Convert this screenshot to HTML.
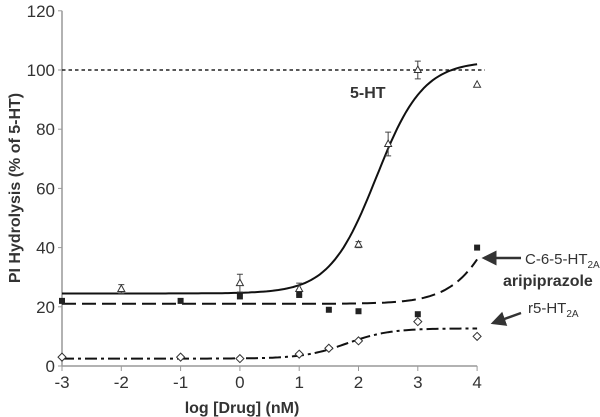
<!DOCTYPE html>
<html><head><meta charset="utf-8"><style>
body{margin:0;background:#fff}
svg{display:block;font-family:"Liberation Sans",Arial,sans-serif}
</style></head><body>
<svg id="c" width="600" height="417"></svg>
<script>
const xTicks=[-3,-2,-1,0,1,2,3,4];
const yTicks=[0,20,40,60,80,100,120];
const htX=[-2,0,1,2,2.5,3,4];
const htY=[26,28,26,41,75,100,95];
const htErr=[1.5,3,2,1,4,3,0];
const ariX=[-3,-1,0,1,1.5,2,3,4];
const ariY=[22,22,23.5,24,19,18.5,17.5,40];
const r5X=[-3,-1,0,1,1.5,2,3,4];
const r5Y=[3,3,2.5,4,6,8.5,15,10];
const htFit=[24.5,103,2.3,1.1];
const ariFit=[21,100,4.6,1.05];
const r5Fit=[2.5,12.7,1.8,1.2];
const NS="http://www.w3.org/2000/svg";
const svg=document.getElementById('c');
const X=v=>62+(v+3)*59.3;
const Y=v=>366-v*2.96;
function mk(t,a,p){const e=document.createElementNS(NS,t);for(const k in a)e.setAttribute(k,a[k]);(p||svg).appendChild(e);return e;}
function sig(f,x){return f[0]+(f[1]-f[0])/(1+Math.pow(10,(f[2]-x)*f[3]));}
let e;
e=mk('line',{x1:62,y1:Y(120),x2:62,y2:366,stroke:'#999','stroke-width':1.5});

e=mk('line',{x1:62,y1:366,x2:X(4),y2:366,stroke:'#999','stroke-width':1.5});

yTicks.forEach(t=>{
 mk('line',{x1:58,y1:Y(t),x2:62,y2:Y(t),stroke:'#999'});
 e=mk('text',{x:55,y:Y(t)+6,'text-anchor':'end','font-size':17,fill:'#333'});e.textContent=t;
 
});
xTicks.forEach(t=>{
 mk('line',{x1:X(t),y1:366,x2:X(t),y2:371,stroke:'#999'});
 e=mk('text',{x:X(t),y:388,'text-anchor':'middle','font-size':17,fill:'#333'});e.textContent=t;
 
});
e=mk('line',{x1:62,y1:Y(100),x2:485,y2:Y(100),stroke:'#222','stroke-width':1.6,'stroke-dasharray':'3.5,3'});

function curve(f,dash,name){let d='';for(let i=0;i<=140;i++){const x=-3+i*0.05;d+=(i?'L':'M')+X(x).toFixed(1)+','+Y(sig(f,x)).toFixed(1);}
 e=mk('path',{d:d,fill:'none',stroke:'#111','stroke-width':2,'stroke-dasharray':dash});
 }
curve(htFit,'none','fit-5ht');
curve(ariFit,'14,6','fit-c6-aripiprazole');
curve(r5Fit,'12,4,3,4','fit-r5-aripiprazole');
htX.forEach((x,i)=>{const cx=X(x),cy=Y(htY[i]);
 if(htErr[i]){const t=Y(htY[i]+htErr[i]),b=Y(htY[i]-htErr[i]);
  mk('path',{d:`M${cx-3},${t}H${cx+3}M${cx},${t}V${b}M${cx-3},${b}H${cx+3}`,stroke:'#444',fill:'none'});}
 e=mk('path',{d:`M${cx},${cy-4}L${cx+3.5},${cy+2.5}L${cx-3.5},${cy+2.5}Z`,fill:'#fff',stroke:'#333'});
 });
ariX.forEach((x,i)=>{e=mk('rect',{x:X(x)-3,y:Y(ariY[i])-3,width:6,height:6,fill:'#222'});
 });
r5X.forEach((x,i)=>{const cx=X(x),cy=Y(r5Y[i]);
 e=mk('path',{d:`M${cx},${cy-4}L${cx+4},${cy}L${cx},${cy+4}L${cx-4},${cy}Z`,fill:'#fff',stroke:'#333'});
 });
</script>
<svg style="position:absolute;left:0;top:0" width="600" height="417">
<defs><marker id="ah" markerWidth="6" markerHeight="6" refX="5" refY="3" orient="auto"><path d="M0,0L6,3L0,6Z" fill="#333"/></marker></defs>
<text x="20" y="188" transform="rotate(-90 20 188)" text-anchor="middle" font-size="16" font-weight="bold" fill="#333">PI Hydrolysis (% of 5-HT)</text>
<text x="242" y="413" text-anchor="middle" font-size="16" font-weight="bold" fill="#333">log [Drug] (nM)</text>
<text x="350" y="98" font-size="16" font-weight="bold" fill="#333">5-HT</text>
<line x1="521" y1="258" x2="484" y2="258" stroke="#333" stroke-width="2.5" marker-end="url(#ah)"/>
<text x="525" y="264" font-size="15" fill="#333">C-6-5-HT<tspan font-size="10" dy="4">2A</tspan></text>
<text x="503" y="286" font-size="16" font-weight="bold" fill="#333">aripiprazole</text>
<line x1="521" y1="313" x2="493" y2="323" stroke="#333" stroke-width="2.5" marker-end="url(#ah)"/>
<text x="528" y="313" font-size="15" fill="#333">r5-HT<tspan font-size="10" dy="4">2A</tspan></text>
</svg>
</body></html>
